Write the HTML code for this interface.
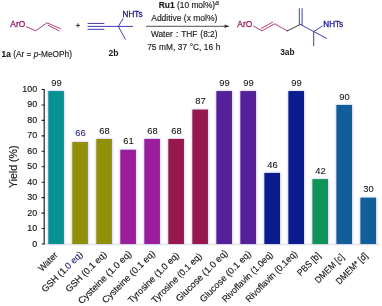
<!DOCTYPE html>
<html><head><meta charset="utf-8"><title>Figure</title>
<style>
html,body{margin:0;padding:0;background:#fff;}
svg{display:block;font-family:"Liberation Sans",Arial,sans-serif;}
</style></head><body>
<svg width="382" height="306" viewBox="0 0 382 306">
<defs><filter id="gl" x="-30%" y="-5%" width="160%" height="110%"><feGaussianBlur stdDeviation="1.1"/></filter></defs>
<rect width="382" height="306" fill="#fff"/>

<g fill="none" stroke-width="0.9" stroke-linecap="round">
<path stroke="#A2286E" d="M26.5 26.8 L35.7 30.8 L46.9 22.8 L60.4 28.6 M48.3 25.4 L59.3 30.9"/>
<path stroke="#2A2AA6" d="M88 23.45 H103.9 M88 26.4 H132.6 M88 29.35 H103.9 M118.3 26.4 L122.9 18.7 M118.3 26.4 L125.4 39.2"/>
<path stroke="#111" stroke-width="0.75" stroke-linecap="butt" d="M146.2 26.3 H226"/>
<path stroke="#A2286E" d="M253.5 25.95 L261.8 30.8 L274.7 23.8 L287.3 30.9 M261.2 28.4 L272.6 22.2"/>
<path stroke="#222" d="M287.3 30.9 L300.4 24.4"/>
<path stroke="#2A2AA6" d="M299.3 24 V8.7 M302.1 24.6 V8.7 M300.4 24.4 L313.8 31.6 L322.2 26.1 M313.8 31.6 L326.4 38.3 M313.7 31.6 V45.9"/>
</g>
<path fill="#222" d="M229.5 26.3 L224.2 24.6 L225.2 26.3 L224.2 28 Z"/>
<g font-size="8.3px" fill="#1a1a1a" stroke="#1a1a1a" stroke-width="0.15">
<text x="10.3" y="27.2" fill="#97206A" stroke="#97206A" stroke-width="0.3" font-size="8.4px">ArO</text>
<text x="237.3" y="26.7" fill="#97206A" stroke="#97206A" stroke-width="0.3" font-size="8.4px">ArO</text>
<text x="122.6" y="16.9" fill="#1E1E98" stroke="#1E1E98" stroke-width="0.32" font-size="8.15px">NHTs</text>
<text x="323.3" y="27.2" fill="#1E1E98" stroke="#1E1E98" stroke-width="0.32" font-size="8.15px">NHTs</text>
<path stroke="#222" stroke-width="0.9" fill="none" d="M76 25.4 H80 M78 23.4 V27.4"/>
<text x="1.6" y="56.7"><tspan font-weight="bold">1a</tspan> (Ar = <tspan font-style="italic">p</tspan>-MeOPh)</text>
<text x="113.4" y="55.6" text-anchor="middle" font-weight="bold" font-size="8.6px" stroke="none">2b</text>
<text x="287.4" y="55.1" text-anchor="middle" font-weight="bold" font-size="8.3px" stroke="none">3ab</text>
<text x="158.8" y="7.5" font-size="8.4px"><tspan font-weight="bold">Ru1</tspan> (10 mol%)<tspan font-style="italic" font-size="6.6px" dy="-2.6">a</tspan></text>
<text x="184.3" y="20.9" text-anchor="middle" font-size="8.5px">Additive (x mol%)</text>
<text x="184.2" y="37" text-anchor="middle" word-spacing="0.8px">Water : THF (8:2)</text>
<text x="183.8" y="49.9" text-anchor="middle" word-spacing="0.3px">75 mM, 37 °C, 16 h</text>
</g>
<path fill="none" stroke="#cfcfd8" stroke-width="0.8" d="M44 244.3 H380"/>
<g filter="url(#gl)" fill="#b9b9e8" opacity="0.9">
<rect x="47.90" y="90.85" width="16.50" height="153.25"/>
<rect x="71.91" y="141.83" width="16.50" height="102.27"/>
<rect x="95.92" y="138.74" width="16.50" height="105.36"/>
<rect x="119.93" y="149.56" width="16.50" height="94.54"/>
<rect x="143.94" y="138.74" width="16.50" height="105.36"/>
<rect x="167.95" y="138.74" width="16.50" height="105.36"/>
<rect x="191.96" y="109.39" width="16.50" height="134.72"/>
<rect x="215.97" y="90.85" width="16.50" height="153.25"/>
<rect x="239.98" y="90.85" width="16.50" height="153.25"/>
<rect x="263.99" y="172.73" width="16.50" height="71.37"/>
<rect x="288.00" y="90.85" width="16.50" height="153.25"/>
<rect x="312.01" y="178.91" width="16.50" height="65.19"/>
<rect x="336.02" y="104.75" width="16.50" height="139.35"/>
<rect x="360.03" y="197.45" width="16.50" height="46.65"/>
</g>
<rect x="48.30" y="91.05" width="15.6" height="152.95" fill="#059292"/>
<rect x="72.31" y="142.03" width="15.6" height="101.97" fill="#929008"/>
<rect x="96.32" y="138.94" width="15.6" height="105.06" fill="#929008"/>
<rect x="120.33" y="149.75" width="15.6" height="94.24" fill="#9A1E9C"/>
<rect x="144.34" y="138.94" width="15.6" height="105.06" fill="#9A1E9C"/>
<rect x="168.35" y="138.94" width="15.6" height="105.06" fill="#98184E"/>
<rect x="192.36" y="109.59" width="15.6" height="134.41" fill="#98184E"/>
<rect x="216.37" y="91.05" width="15.6" height="152.95" fill="#55209A"/>
<rect x="240.38" y="91.05" width="15.6" height="152.95" fill="#55209A"/>
<rect x="264.39" y="172.93" width="15.6" height="71.07" fill="#0A1C90"/>
<rect x="288.40" y="91.05" width="15.6" height="152.95" fill="#0A1C90"/>
<rect x="312.41" y="179.11" width="15.6" height="64.89" fill="#0E9458"/>
<rect x="336.42" y="104.95" width="15.6" height="139.05" fill="#105E9A"/>
<rect x="360.43" y="197.65" width="15.6" height="46.35" fill="#105E9A"/>
<path fill="none" stroke="#111" stroke-width="1.1" d="M44.2 89.00 V244.5 M41.7 244.00 H44.2 M41.7 228.55 H44.2 M41.7 213.10 H44.2 M41.7 197.65 H44.2 M41.7 182.20 H44.2 M41.7 166.75 H44.2 M41.7 151.30 H44.2 M41.7 135.85 H44.2 M41.7 120.40 H44.2 M41.7 104.95 H44.2 M41.7 89.50 H44.2"/>
<g font-size="8.9px" fill="#151515" stroke="#151515" stroke-width="0.15">
<text x="37.1" y="246.50" text-anchor="end">0</text>
<text x="37.1" y="231.05" text-anchor="end">10</text>
<text x="37.1" y="215.60" text-anchor="end">20</text>
<text x="37.1" y="200.15" text-anchor="end">30</text>
<text x="37.1" y="184.70" text-anchor="end">40</text>
<text x="37.1" y="169.25" text-anchor="end">50</text>
<text x="37.1" y="153.80" text-anchor="end">60</text>
<text x="37.1" y="138.35" text-anchor="end">70</text>
<text x="37.1" y="122.90" text-anchor="end">80</text>
<text x="37.1" y="107.45" text-anchor="end">90</text>
<text x="37.1" y="92.00" text-anchor="end">100</text>
<text x="56.40" y="85.75" text-anchor="middle" font-size="9.4px" stroke-width="0.08">99</text>
<text x="80.41" y="135.93" text-anchor="middle" font-size="9.4px" stroke-width="0.08" fill="#1E1E82" stroke="#1E1E82">66</text>
<text x="104.42" y="133.64" text-anchor="middle" font-size="9.4px" stroke-width="0.08">68</text>
<text x="128.43" y="144.45" text-anchor="middle" font-size="9.4px" stroke-width="0.08">61</text>
<text x="152.44" y="133.64" text-anchor="middle" font-size="9.4px" stroke-width="0.08">68</text>
<text x="176.45" y="133.64" text-anchor="middle" font-size="9.4px" stroke-width="0.08">68</text>
<text x="200.46" y="104.29" text-anchor="middle" font-size="9.4px" stroke-width="0.08">87</text>
<text x="224.47" y="85.75" text-anchor="middle" font-size="9.4px" stroke-width="0.08">99</text>
<text x="248.48" y="85.75" text-anchor="middle" font-size="9.4px" stroke-width="0.08">99</text>
<text x="272.49" y="167.63" text-anchor="middle" font-size="9.4px" stroke-width="0.08">46</text>
<text x="296.50" y="85.75" text-anchor="middle" font-size="9.4px" stroke-width="0.08">99</text>
<text x="320.51" y="173.81" text-anchor="middle" font-size="9.4px" stroke-width="0.08">42</text>
<text x="344.52" y="99.65" text-anchor="middle" font-size="9.4px" stroke-width="0.08">90</text>
<text x="368.53" y="192.35" text-anchor="middle" font-size="9.4px" stroke-width="0.08">30</text>
<text transform="translate(41.95 272.05) rotate(-45)" font-size="9.2px" textLength="23.26" lengthAdjust="spacingAndGlyphs">Water</text>
<text transform="translate(45.31 292.85) rotate(-45)" font-size="9.2px" textLength="53.60" lengthAdjust="spacingAndGlyphs">GSH (1.<tspan fill="#1E1E82" stroke="#1E1E82">0 eq</tspan>)</text>
<text transform="translate(69.32 292.85) rotate(-45)" font-size="9.2px" textLength="53.60" lengthAdjust="spacingAndGlyphs">GSH (0.1 eq)</text>
<text transform="translate(81.68 304.60) rotate(-45)" font-size="9.2px" textLength="71.21" lengthAdjust="spacingAndGlyphs">Cysteine (1.0 eq)</text>
<text transform="translate(105.79 303.80) rotate(-45)" font-size="9.2px" textLength="70.50" lengthAdjust="spacingAndGlyphs">Cysteine (0.1 eq)</text>
<text transform="translate(131.75 303.75) rotate(-45)" font-size="9.2px" textLength="67.74" lengthAdjust="spacingAndGlyphs">Tyrosine (1.0 eq)</text>
<text transform="translate(155.16 303.75) rotate(-45)" font-size="9.2px" textLength="66.61" lengthAdjust="spacingAndGlyphs">Tyrosine (0.1 eq)</text>
<text transform="translate(179.42 302.30) rotate(-45)" font-size="9.2px" textLength="69.08" lengthAdjust="spacingAndGlyphs">Glucose (1.0 eq)</text>
<text transform="translate(203.38 302.70) rotate(-45)" font-size="9.2px" textLength="68.31" lengthAdjust="spacingAndGlyphs">Glucose (0.1 eq)</text>
<text transform="translate(225.74 302.80) rotate(-45)" font-size="9.2px" textLength="67.39" lengthAdjust="spacingAndGlyphs">Rivoflavin (1.0eq)</text>
<text transform="translate(249.25 302.80) rotate(-45)" font-size="9.2px" textLength="68.59" lengthAdjust="spacingAndGlyphs">Rivoflavin (0.1eq)</text>
<text transform="translate(300.76 276.60) rotate(-45)" font-size="9.2px" textLength="28.85" lengthAdjust="spacingAndGlyphs">PBS [b]</text>
<text transform="translate(318.47 283.80) rotate(-45)" font-size="9.2px" textLength="36.91" lengthAdjust="spacingAndGlyphs">DMEM [c]</text>
<text transform="translate(339.38 285.10) rotate(-45)" font-size="9.2px" textLength="40.73" lengthAdjust="spacingAndGlyphs">DMEM* [d]</text>
</g>
<text transform="translate(16.7 166.8) rotate(-90)" text-anchor="middle" font-size="10.6px" fill="#151515" stroke="#151515" stroke-width="0.15">Yield (%)</text>
</svg></body></html>
